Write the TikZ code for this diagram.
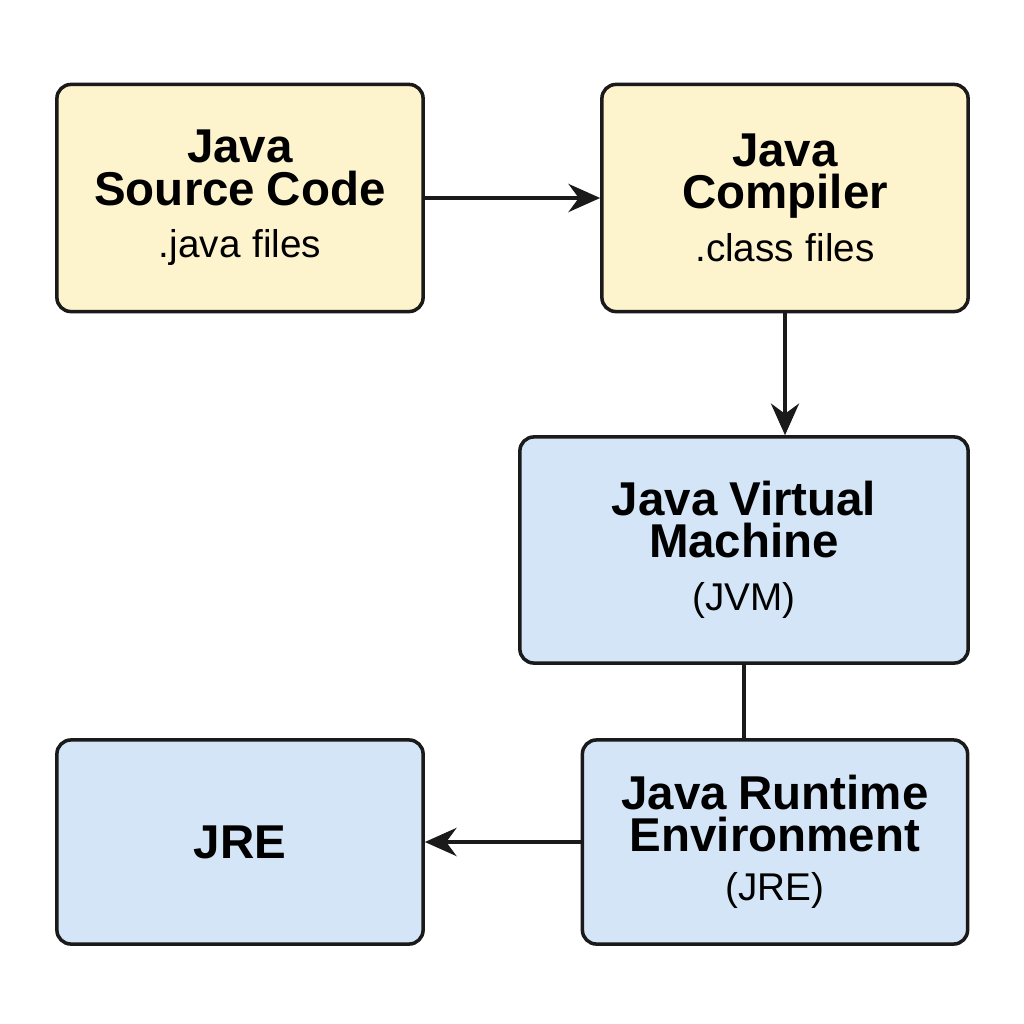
\documentclass[tikz,border=0pt]{standalone}
\usepackage{fontspec}
\setmainfont{Liberation Sans}
\usetikzlibrary{arrows.meta}
\definecolor{srcfill}{HTML}{FDF3CC}
\definecolor{jvmfill}{HTML}{D3E5F6}
\definecolor{ink}{HTML}{1A1A1A}
\newcommand{\boxtitle}[1]{{\fontsize{13.5}{16}\selectfont\bfseries #1}}
\newcommand{\boxsub}[1]{{\fontsize{11}{13}\selectfont #1}}
\begin{document}
\begin{tikzpicture}[x=0.01cm,y=-0.01cm,
    box/.style={draw=ink, line width=1pt, rounded corners=4pt, align=center, text width=3.5cm, inner sep=0pt},
    arr/.style={-{Stealth[length=9pt,width=8pt]}, draw=ink, line width=1pt}]
  \useasboundingbox[fill=white] (0,0) rectangle (1024,1024);
  \node[box, fill=srcfill, minimum width=3.66cm, minimum height=2.27cm]
    (src) at (240,198) {\boxtitle{Java}\\ \boxtitle{Source Code}\\[3pt] \boxsub{.java files}};
  \node[box, fill=srcfill, minimum width=3.66cm, minimum height=2.27cm]
    (comp) at (785,198) {\boxtitle{Java}\\ \boxtitle{Compiler}\\[3pt] \boxsub{.class files}};
  \node[box, fill=jvmfill, minimum width=4.48cm, minimum height=2.26cm]
    (jvm) at (744,550) {\boxtitle{Java Virtual}\\ \boxtitle{Machine}\\[3pt] \boxsub{(JVM)}};
  \node[box, fill=jvmfill, minimum width=3.66cm, minimum height=2.04cm]
    (jre) at (240,842) {\boxtitle{JRE}};
  \node[box, fill=jvmfill, minimum width=3.85cm, minimum height=2.04cm]
    (env) at (775,842) {\boxtitle{Java Runtime}\\ \boxtitle{Environment}\\[2pt] \boxsub{(JRE)}};
  \draw[arr] (src.east) -- (comp.west);
  \draw[arr] (comp.south) -- (comp.south |- jvm.north);
  \draw[draw=ink, line width=1pt] (jvm.south) -- (jvm.south |- env.north);
  \draw[arr] (env.west) -- (jre.east);
\end{tikzpicture}
\end{document}
